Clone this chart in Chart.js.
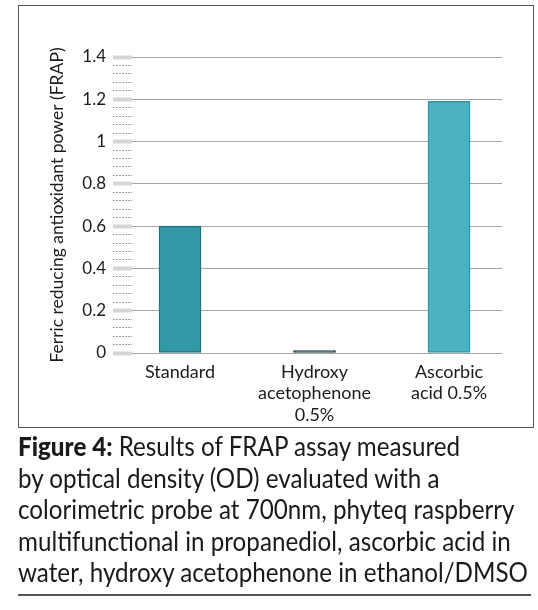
<!DOCTYPE html>
<html>
<head>
<meta charset="utf-8">
<script src="https://cdn.jsdelivr.net/npm/chart.js@4.4.0/dist/chart.umd.min.js"></script>
<style>
    html, body { margin: 0; padding: 0; background: #fff; }
    body { width: 538px; height: 610px; position: relative; overflow: hidden; font-family: Lato, sans-serif; }
    #frame { position: absolute; left: 18px; top: 5px; width: 516px; height: 423px; border: 1.5px solid #555; box-sizing: border-box; }
    #chartBox { position: absolute; left: 0; top: 0; width: 538px; height: 430px; }
    #caption { position: absolute; left: 18px; top: 430px; font-size: 27px; line-height: 31.5px; color: #1a1a1a; transform-origin: 0 0; white-space: nowrap; }
    #caption b { font-weight: 900; }
    #rule { position: absolute; left: 18px; top: 594px; width: 513px; height: 2px; background: #555; }
</style>
</head>
<body>
<div id="frame"></div>
<div id="chartBox"><canvas id="frapChart" width="538" height="430"></canvas></div>
<div id="caption">
    <span><b>Figure 4:</b> Results of FRAP assay measured</span><br>
    <span>by optical density (OD) evaluated with a</span><br>
    <span>colorimetric probe at 700nm, phyteq raspberry</span><br>
    <span>multifunctional in propanediol, ascorbic acid in</span><br>
    <span id="lastLine">water, hydroxy acetophenone in ethanol/DMSO</span>
</div>
<div id="rule"></div>

<script>
// Data
const categories = [
    ['Standard'],
    ['Hydroxy', 'acetophenone', '0.5%'],
    ['Ascorbic', 'acid 0.5%']
];
const frapValues = [0.6, 0.012, 1.19];
const yTicks = [0, 0.2, 0.4, 0.6, 0.8, 1, 1.2, 1.4];
const minorPerStep = 4;

const barFill = ['#3499a6', '#27545c', '#4cb2c2'];
const barEdge = ['#1f6f7c', '#1c3b42', '#2e94a4'];
const textColor = '#1c1c1c';

// major ticks plus the little dashes between them
function buildYTicks() {
    const out = [];
    yTicks.forEach((t, i) => {
        out.push(t);
        if (i < yTicks.length - 1) {
            const step = (yTicks[i + 1] - t) / (minorPerStep + 1);
            for (let k = 1; k <= minorPerStep; k++) {
                out.push(Math.round((t + k * step) * 1000) / 1000);
            }
        }
    });
    return out;
}
const isMajor = v => yTicks.some(t => Math.abs(t - v) < 1e-9);

const ctx = document.getElementById('frapChart').getContext('2d');
const frapChart = new Chart(ctx, {
    type: 'bar',
    data: {
        datasets: [{
            label: 'FRAP',
            data: frapValues.map((v, i) => ({ x: i, y: v })),
            backgroundColor: barFill,
            borderColor: barEdge,
            borderWidth: 1.5,
            borderSkipped: false,
            barThickness: 42
        }]
    },
    options: {
        responsive: false,
        animation: false,
        layout: {
            padding: { left: 44, right: 36, top: 57, bottom: 0 }
        },
        plugins: {
            legend: { display: false },
            tooltip: { enabled: false }
        },
        scales: {
            x: {
                type: 'linear',
                offset: false,
                min: -0.357,
                max: 2.394,
                afterBuildTicks: scale => {
                    scale.ticks = categories.map((c, i) => ({ value: i }));
                },
                afterFit: scale => { scale.height = 77; },
                grid: { display: false, drawTicks: false },
                border: { display: false },
                ticks: {
                    autoSkip: false,
                    maxRotation: 0,
                    padding: 8,
                    color: textColor,
                    font: { family: 'Lato', size: 18 },
                    callback: value => categories[value]
                }
            },
            y: {
                min: 0,
                max: 1.4,
                afterBuildTicks: scale => {
                    scale.ticks = buildYTicks().map(v => ({ value: v }));
                },
                afterFit: scale => { scale.width = 88; },
                border: { display: false },
                title: {
                    display: true,
                    text: 'Ferric reducing antioxidant power (FRAP)',
                    color: textColor,
                    font: { family: 'Lato', size: 17.5 },
                    padding: { top: 3, bottom: 4 }
                },
                grid: {
                    tickLength: 19,
                    color: c => isMajor(c.tick.value) ? '#a6a6a6' : 'rgba(0,0,0,0)',
                    lineWidth: 1,
                    borderDash: [2, 2],
                    tickColor: c => isMajor(c.tick.value) ? '#d6d6d6' : '#a0a0a0',
                    tickWidth: c => isMajor(c.tick.value) ? 4 : 1,
                    tickBorderDash: c => isMajor(c.tick.value) ? [] : [2, 1]
                },
                ticks: {
                    autoSkip: false,
                    padding: 7,
                    color: textColor,
                    font: { family: 'Lato', size: 17 },
                    callback: value => isMajor(value) ? String(value) : ''
                }
            }
        }
    }
});

// squeeze the caption to the width of the printed one
function fitCaption() {
    const cap = document.getElementById('caption');
    cap.style.transform = 'none';
    const w = document.getElementById('lastLine').getBoundingClientRect().width;
    cap.style.transform = `scaleX(${510 / w})`;
}
fitCaption();
if (document.fonts) document.fonts.ready.then(fitCaption);
</script>
</body>
</html>
